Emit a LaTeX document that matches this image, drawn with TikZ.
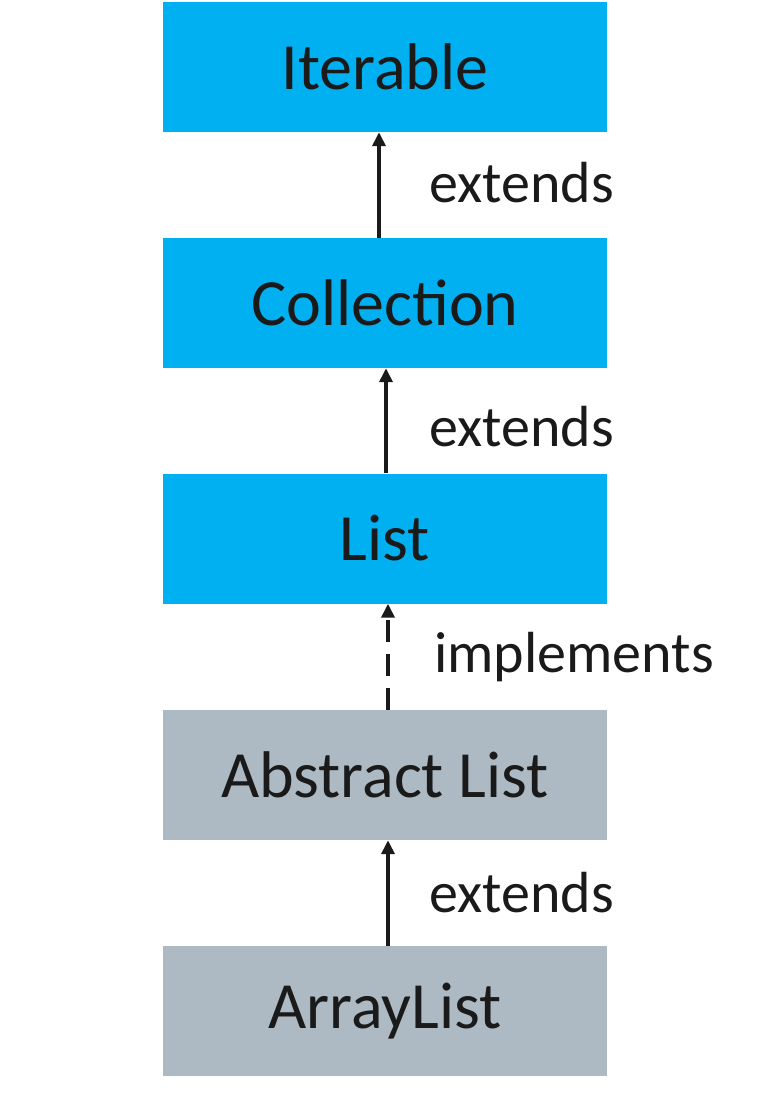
\documentclass[tikz,border=0pt]{standalone}
\usepackage{fontspec}
\setmainfont{Carlito}
\usetikzlibrary{arrows.meta}
\definecolor{bblue}{HTML}{00B0F0}
\definecolor{bgray}{HTML}{ADBAC4}
\definecolor{ink}{HTML}{1A1A1A}
\begin{document}
\begin{tikzpicture}[x=1pt,y=-1pt,
  box/.style={minimum width=444pt,minimum height=130pt,inner sep=0pt,font=\fontsize{66}{70}\selectfont,text=ink},
  lab/.style={anchor=west,font=\fontsize{58}{62}\selectfont,text=ink,inner sep=0pt},
  conn/.style={line width=4pt,draw=ink,-{Triangle[length=14pt,width=13pt]}}]
\useasboundingbox (0,0) rectangle (768,1111);
\node[box,fill=bblue] (it) at (385,67) {Iterable};
\node[box,fill=bblue] (co) at (385,303) {Collection};
\node[box,fill=bblue] (li) at (385,538.5) {List};
\node[box,fill=bgray] (al) at (385,775) {Abstract List};
\node[box,fill=bgray] (ar) at (385,1011) {ArrayList};
\coordinate (c1) at (379,0);
\coordinate (c2) at (386,0);
\coordinate (c3) at (388,0);
\draw[conn] (co.north -| c1) -- (it.south -| c1);
\draw[conn] (li.north -| c2) -- (co.south -| c2);
\draw[conn,dash pattern=on 22pt off 12pt] (al.north -| c3) -- (li.south -| c3);
\draw[conn] (ar.north -| c3) -- (al.south -| c3);
\node[lab] (l1) at (429,183) {extends};
\node[lab] (l2) at (429,427) {extends};
\node[lab] (l3) at (434,657) {implements};
\node[lab] (l4) at (429,893) {extends};
\end{tikzpicture}
\end{document}
